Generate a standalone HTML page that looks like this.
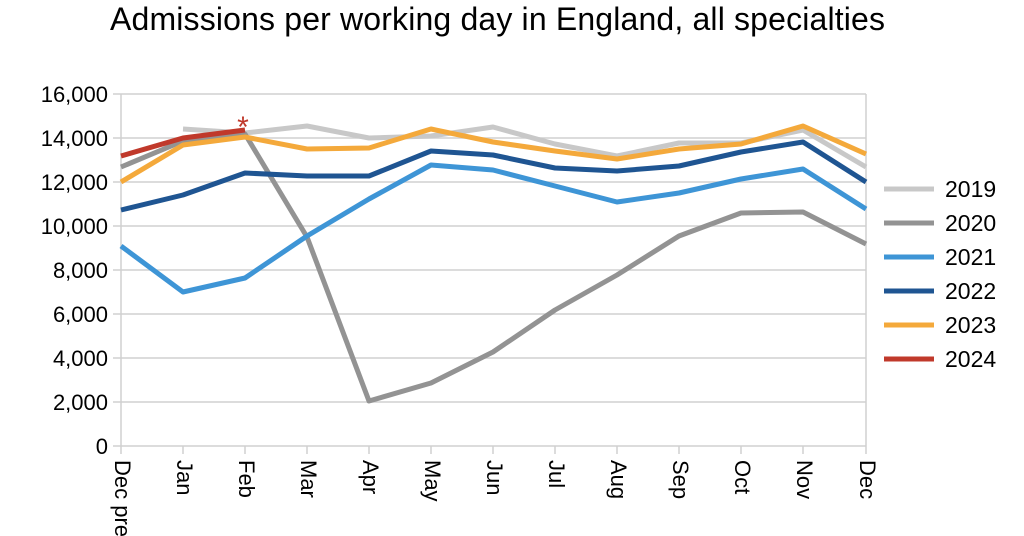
<!DOCTYPE html>
<html><head><meta charset="utf-8"><style>body{margin:0;background:#fff}svg{display:block}</style></head>
<body>
<svg width="1024" height="536" viewBox="0 0 1024 536" font-family="Liberation Sans, Arial, sans-serif">
<text x="110" y="30" font-size="32" fill="#000" textLength="775">Admissions per working day in England, all specialties</text>
<g stroke="#d0d0d0" stroke-width="1.5">
<line x1="113" y1="94" x2="866" y2="94"/><line x1="113" y1="138" x2="866" y2="138"/>
<line x1="113" y1="182" x2="866" y2="182"/><line x1="113" y1="226" x2="866" y2="226"/>
<line x1="113" y1="270" x2="866" y2="270"/><line x1="113" y1="314" x2="866" y2="314"/>
<line x1="113" y1="358" x2="866" y2="358"/><line x1="113" y1="402" x2="866" y2="402"/>
<line x1="113" y1="446" x2="866" y2="446"/>
<line x1="121" y1="94" x2="121" y2="454"/><line x1="866" y1="94" x2="866" y2="446"/>
</g>
<g stroke="#d0d0d0" stroke-width="1.5">
<line x1="183" y1="446" x2="183" y2="454"/><line x1="245" y1="446" x2="245" y2="454"/><line x1="307" y1="446" x2="307" y2="454"/><line x1="369" y1="446" x2="369" y2="454"/><line x1="431" y1="446" x2="431" y2="454"/><line x1="493" y1="446" x2="493" y2="454"/><line x1="555" y1="446" x2="555" y2="454"/><line x1="617" y1="446" x2="617" y2="454"/><line x1="679" y1="446" x2="679" y2="454"/><line x1="741" y1="446" x2="741" y2="454"/><line x1="803" y1="446" x2="803" y2="454"/><line x1="866" y1="446" x2="866" y2="454"/>
</g>
<g font-size="22" text-anchor="end" fill="#000">
<text x="108" y="102">16,000</text><text x="108" y="146">14,000</text><text x="108" y="190">12,000</text><text x="108" y="234">10,000</text><text x="108" y="278">8,000</text><text x="108" y="322">6,000</text><text x="108" y="366">4,000</text><text x="108" y="410">2,000</text><text x="108" y="454">0</text>
</g>
<g font-size="22" fill="#000" dominant-baseline="middle">
<text transform="translate(121,460) rotate(90)">Dec prev</text>
<text transform="translate(183,460) rotate(90)">Jan</text>
<text transform="translate(245,460) rotate(90)">Feb</text>
<text transform="translate(307,460) rotate(90)">Mar</text>
<text transform="translate(369,460) rotate(90)">Apr</text>
<text transform="translate(431,460) rotate(90)">May</text>
<text transform="translate(493,460) rotate(90)">Jun</text>
<text transform="translate(555,460) rotate(90)">Jul</text>
<text transform="translate(617,460) rotate(90)">Aug</text>
<text transform="translate(679,460) rotate(90)">Sep</text>
<text transform="translate(741,460) rotate(90)">Oct</text>
<text transform="translate(803,460) rotate(90)">Nov</text>
<text transform="translate(866,460) rotate(90)">Dec</text>
</g>
<g fill="none" stroke-width="5" stroke-linejoin="round">
<polyline stroke="#c8c8c8" points="183,129 245,133 307,126 369,138 431,136 493,127 555,144 617,156 679,143 741,143 803,130 866,167"/>
<polyline stroke="#939393" points="121,167 183,141 245,134 307,237 369,401 431,383 493,352 555,310 617,275 679,236 741,213 803,212 866,244"/>
<polyline stroke="#3e95d6" points="121,246 183,292 245,278 307,236 369,199 431,165 493,170 555,186 617,202 679,193 741,179 803,169 866,209"/>
<polyline stroke="#1f5592" points="121,210 183,195 245,173 307,176 369,176 431,151 493,155 555,168 617,171 679,166 741,152 803,142 866,182"/>
<polyline stroke="#f4a93b" points="121,182 183,145 245,137 307,149 369,148 431,129 493,142 555,151 617,159 679,149 741,144 803,126 866,154"/>
<polyline stroke="#c0392b" points="121,156 183,138 245,130"/>
</g>
<text x="243" y="137" font-size="30" fill="#c0392b" text-anchor="middle">*</text>
<g stroke-width="5">
<line x1="884" y1="189" x2="934" y2="189" stroke="#c8c8c8"/>
<line x1="884" y1="223" x2="934" y2="223" stroke="#939393"/>
<line x1="884" y1="257" x2="934" y2="257" stroke="#3e95d6"/>
<line x1="884" y1="291" x2="934" y2="291" stroke="#1f5592"/>
<line x1="884" y1="325" x2="934" y2="325" stroke="#f4a93b"/>
<line x1="884" y1="359" x2="934" y2="359" stroke="#c0392b"/>
</g>
<g font-size="23" fill="#000">
<text x="945" y="197">2019</text><text x="945" y="231">2020</text><text x="945" y="265">2021</text><text x="945" y="299">2022</text><text x="945" y="333">2023</text><text x="945" y="367">2024</text>
</g>
</svg>
</body></html>
